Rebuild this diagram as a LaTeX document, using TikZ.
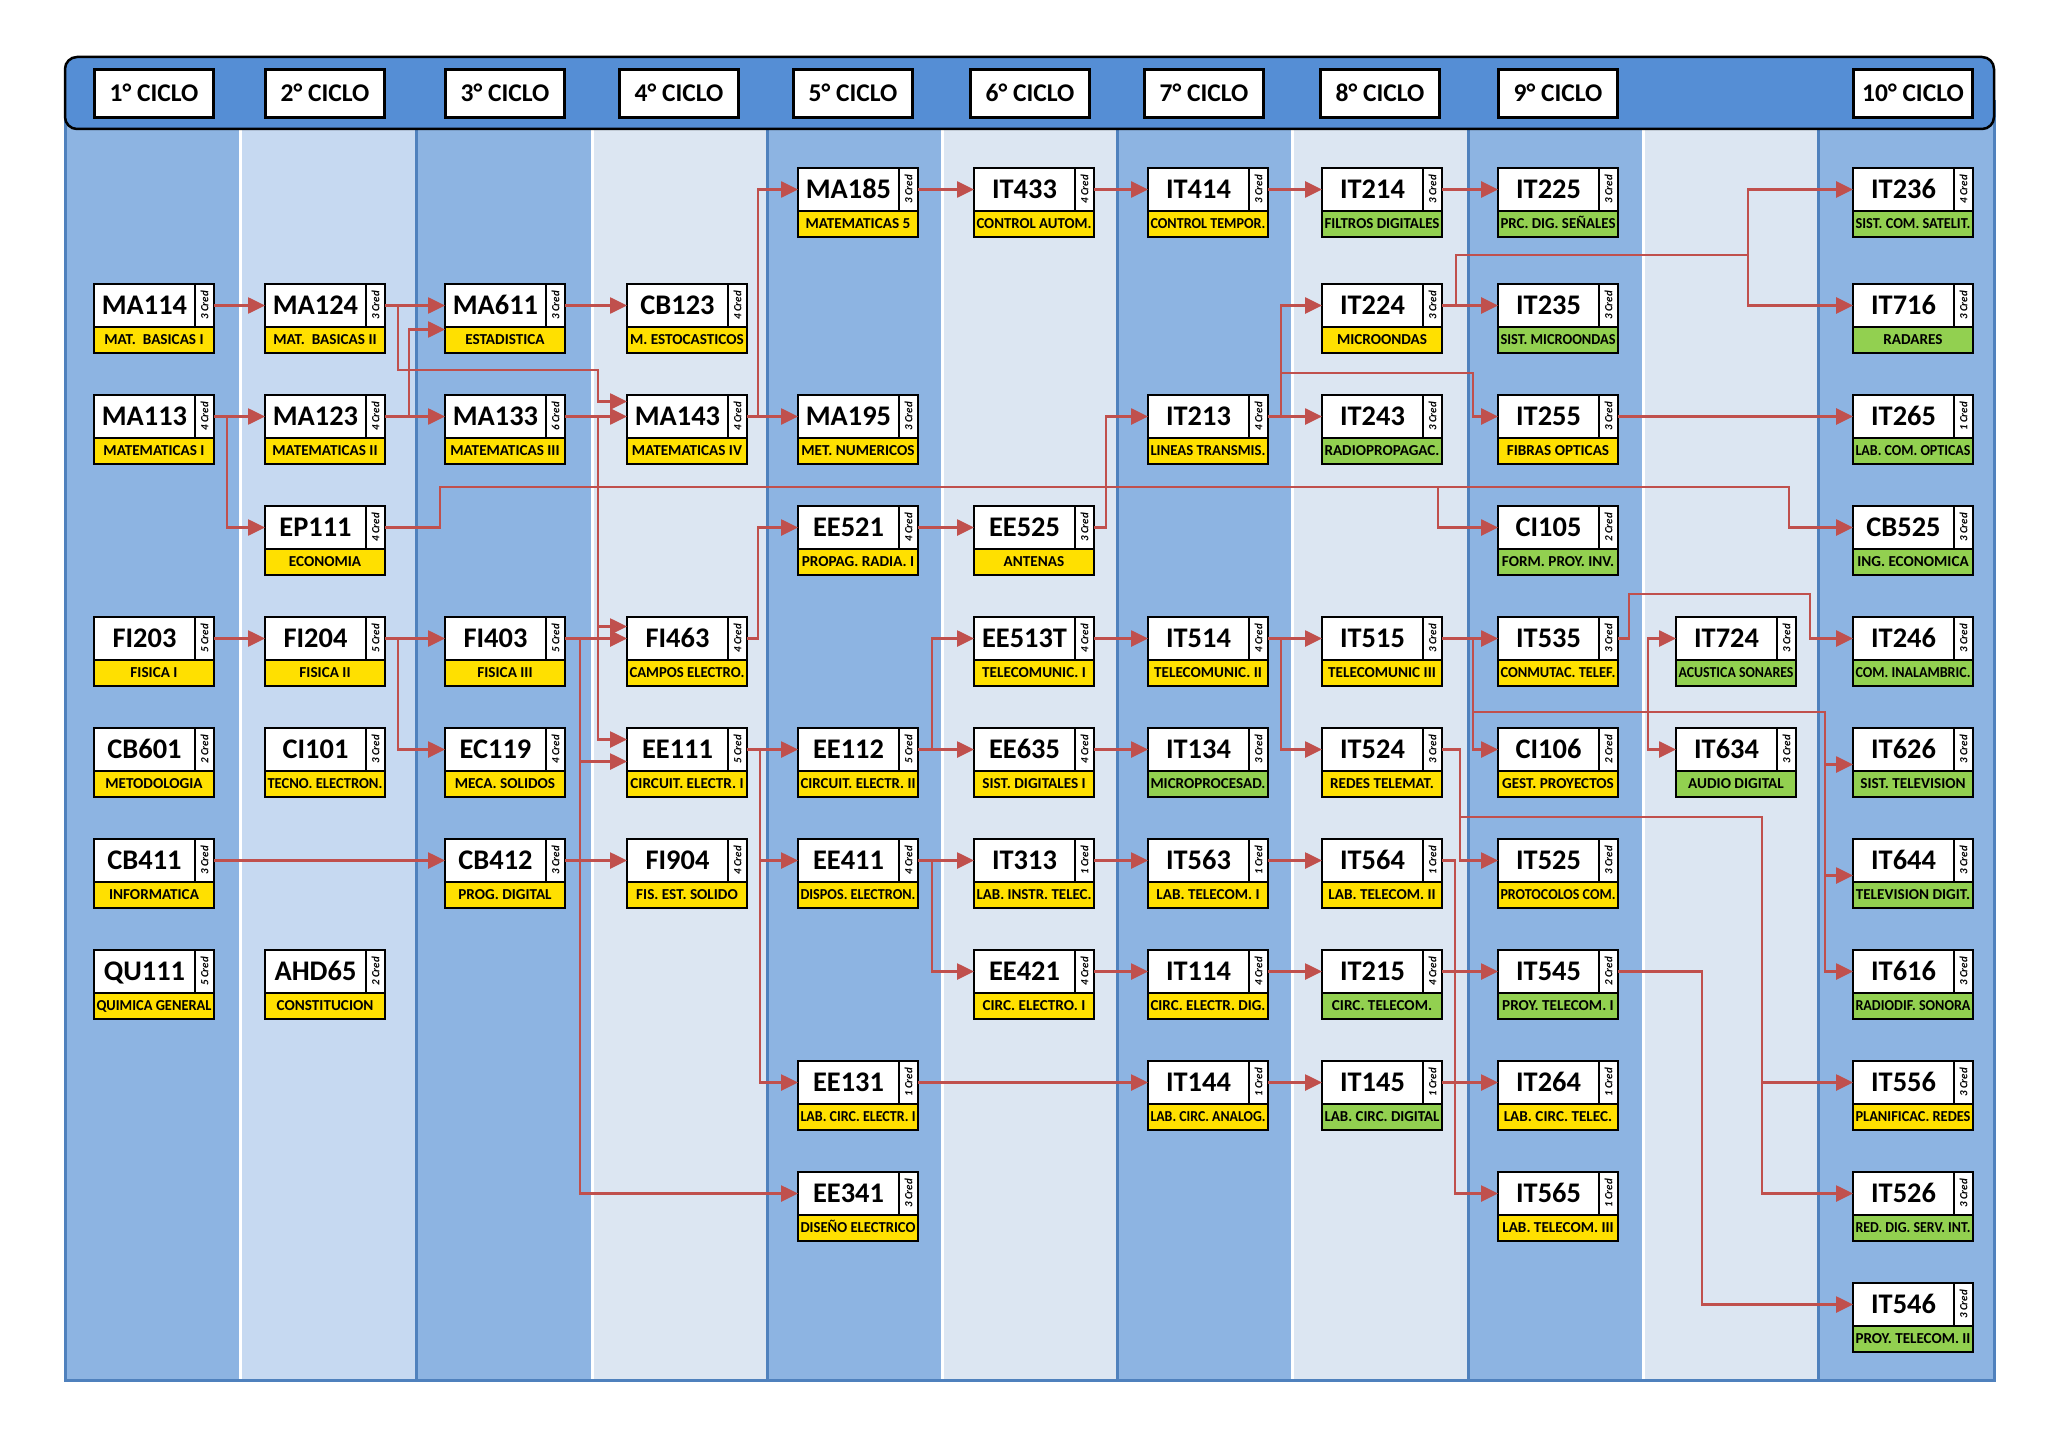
\documentclass[tikz,border=0pt]{standalone}
\usepackage{fontspec}
\setmainfont{Carlito}
\usepackage{graphicx}
\usetikzlibrary{arrows.meta}
\definecolor{darkcol}{HTML}{8DB4E2}
\definecolor{midcol}{HTML}{C6D9F1}
\definecolor{lightcol}{HTML}{DCE6F2}
\definecolor{framecol}{HTML}{4F81BD}
\definecolor{headcol}{HTML}{558ED5}
\definecolor{labyellow}{HTML}{FFE000}
\definecolor{labgreen}{HTML}{92D050}
\definecolor{linkred}{HTML}{C0504D}
\newsavebox\labsave
\newcommand\fitlab[1]{\sbox\labsave{#1}\ifdim\wd\labsave>115pt\pgfmathparse{115/\the\wd\labsave}\scalebox{\pgfmathresult}[1]{\usebox\labsave}\else\usebox\labsave\fi}
\tikzset{
  codebox/.style={draw=black, line width=2.4pt, fill=white, minimum width=120pt, minimum height=43pt,
    inner sep=0pt, outer sep=0pt, anchor=north west, text height=18.3pt, text depth=0pt,
    font=\fontsize{28.4}{28.4}\selectfont\bfseries},
  labbox/.style={draw=black, line width=2.4pt, minimum width=120pt, minimum height=26pt,
    inner sep=0pt, outer sep=0pt, anchor=north, text height=9.8pt, text depth=0pt,
    font=\fontsize{15.2}{15.2}\selectfont\bfseries},
  credtext/.style={rotate=90, inner sep=0pt, font=\fontsize{11}{11}\selectfont\bfseries\itshape},
  hdr/.style={draw=black, line width=2.4pt, fill=white, minimum width=119pt, minimum height=48pt,
    inner sep=0pt, text height=16.5pt, text depth=0pt, font=\fontsize{25.5}{25.5}\selectfont\bfseries},
  link/.style={draw=linkred, line width=2.6pt, -{Triangle[length=17pt,width=16pt]}},
}
\newcommand\cursonode[7]{%
  \node[codebox] (#1) at (#2,#3) {\makebox[120pt][l]{\makebox[101pt]{#4}}};
  \draw[line width=1.6pt] ([xshift=-19pt]#1.north east) -- ([xshift=-19pt]#1.south east);
  \node[credtext] (#1-c) at ([xshift=-9.5pt]#1.east) {#5 Cred};
  \node[labbox, fill=#7] (#1-l) at (#1.south) {\fitlab{#6}};
}
\begin{document}
\begin{tikzpicture}[x=1pt,y=-1pt]
\useasboundingbox (0,0) rectangle (2048,1450);
\fill[white] (0,0) rectangle (2048,1450);
% columns
\fill[darkcol]  (65,100) rectangle (240,1380);
\fill[midcol]   (240,100) rectangle (416,1380);
\fill[darkcol]  (416,100) rectangle (592,1380);
\fill[lightcol] (592,100) rectangle (767,1380);
\fill[darkcol]  (767,100) rectangle (942,1380);
\fill[lightcol] (942,100) rectangle (1117,1380);
\fill[darkcol]  (1117,100) rectangle (1292,1380);
\fill[lightcol] (1292,100) rectangle (1468,1380);
\fill[darkcol]  (1468,100) rectangle (1643,1380);
\fill[lightcol] (1643,100) rectangle (1818,1380);
\fill[darkcol]  (1818,100) rectangle (1994,1380);
\foreach \xx in {240,592,942,1292,1643} \draw[white, line width=3pt] (\xx,100) -- (\xx,1380);
\foreach \xx in {416,767,1117,1468,1818} \draw[framecol, line width=3pt] (\xx,100) -- (\xx,1380);
\draw[framecol, line width=3pt] (65,100) -- (65,1380) -- (1994,1380) -- (1994,100);
% header
\draw[fill=headcol, draw=black, line width=2.5pt, rounded corners=12pt] (65,57) rectangle (1994,129);
\node[hdr] (h1) at (154,93.5) {1° CICLO};
\node[hdr] (h2) at (325,93.5) {2° CICLO};
\node[hdr] (h3) at (505,93.5) {3° CICLO};
\node[hdr] (h4) at (679,93.5) {4° CICLO};
\node[hdr] (h5) at (853,93.5) {5° CICLO};
\node[hdr] (h6) at (1030,93.5) {6° CICLO};
\node[hdr] (h7) at (1204,93.5) {7° CICLO};
\node[hdr] (h8) at (1380,93.5) {8° CICLO};
\node[hdr] (h9) at (1558,93.5) {9° CICLO};
\node[hdr] (h10) at (1913,93.5) {10° CICLO};
% column 1
\cursonode{MA114}{94}{284}{MA114}{3}{MAT.\ \ BASICAS I}{labyellow}
\cursonode{MA113}{94}{395}{MA113}{4}{MATEMATICAS I}{labyellow}
\cursonode{FI203}{94}{617}{FI203}{5}{FISICA I}{labyellow}
\cursonode{CB601}{94}{728}{CB601}{2}{METODOLOGIA}{labyellow}
\cursonode{CB411}{94}{839}{CB411}{3}{INFORMATICA}{labyellow}
\cursonode{QU111}{94}{950}{QU111}{5}{QUIMICA GENERAL}{labyellow}
% column 2
\cursonode{MA124}{265}{284}{MA124}{3}{MAT.\ \ BASICAS II}{labyellow}
\cursonode{MA123}{265}{395}{MA123}{4}{MATEMATICAS II}{labyellow}
\cursonode{EP111}{265}{506}{EP111}{4}{ECONOMIA}{labyellow}
\cursonode{FI204}{265}{617}{FI204}{5}{FISICA II}{labyellow}
\cursonode{CI101}{265}{728}{CI101}{3}{TECNO. ELECTRON.}{labyellow}
\cursonode{AHD65}{265}{950}{AHD65}{2}{CONSTITUCION}{labyellow}
% column 3
\cursonode{MA611}{445}{284}{MA611}{3}{ESTADISTICA}{labyellow}
\cursonode{MA133}{445}{395}{MA133}{6}{MATEMATICAS III}{labyellow}
\cursonode{FI403}{445}{617}{FI403}{5}{FISICA III}{labyellow}
\cursonode{EC119}{445}{728}{EC119}{4}{MECA. SOLIDOS}{labyellow}
\cursonode{CB412}{445}{839}{CB412}{3}{PROG. DIGITAL}{labyellow}
% column 4
\cursonode{CB123}{627}{284}{CB123}{4}{M. ESTOCASTICOS}{labyellow}
\cursonode{MA143}{627}{395}{MA143}{4}{MATEMATICAS IV}{labyellow}
\cursonode{FI463}{627}{617}{FI463}{4}{CAMPOS ELECTRO.}{labyellow}
\cursonode{EE111}{627}{728}{EE111}{5}{CIRCUIT. ELECTR. I}{labyellow}
\cursonode{FI904}{627}{839}{FI904}{4}{FIS. EST. SOLIDO}{labyellow}
% column 5
\cursonode{MA185}{798}{168}{MA185}{3}{MATEMATICAS 5}{labyellow}
\cursonode{MA195}{798}{395}{MA195}{3}{MET. NUMERICOS}{labyellow}
\cursonode{EE521}{798}{506}{EE521}{4}{PROPAG. RADIA. I}{labyellow}
\cursonode{EE112}{798}{728}{EE112}{5}{CIRCUIT. ELECTR. II}{labyellow}
\cursonode{EE411}{798}{839}{EE411}{4}{DISPOS. ELECTRON.}{labyellow}
\cursonode{EE131}{798}{1061}{EE131}{1}{LAB. CIRC. ELECTR. I}{labyellow}
\cursonode{EE341}{798}{1172}{EE341}{3}{DISEÑO ELECTRICO}{labyellow}
% column 6
\cursonode{IT433}{974}{168}{IT433}{4}{CONTROL AUTOM.}{labyellow}
\cursonode{EE525}{974}{506}{EE525}{3}{ANTENAS}{labyellow}
\cursonode{EE513T}{974}{617}{EE513T}{4}{TELECOMUNIC. I}{labyellow}
\cursonode{EE635}{974}{728}{EE635}{4}{SIST. DIGITALES I}{labyellow}
\cursonode{IT313}{974}{839}{IT313}{1}{LAB. INSTR. TELEC.}{labyellow}
\cursonode{EE421}{974}{950}{EE421}{4}{CIRC. ELECTRO. I}{labyellow}
% column 7
\cursonode{IT414}{1148}{168}{IT414}{3}{CONTROL TEMPOR.}{labyellow}
\cursonode{IT213}{1148}{395}{IT213}{4}{LINEAS TRANSMIS.}{labyellow}
\cursonode{IT514}{1148}{617}{IT514}{4}{TELECOMUNIC. II}{labyellow}
\cursonode{IT134}{1148}{728}{IT134}{3}{MICROPROCESAD.}{labgreen}
\cursonode{IT563}{1148}{839}{IT563}{1}{LAB. TELECOM. I}{labyellow}
\cursonode{IT114}{1148}{950}{IT114}{4}{CIRC. ELECTR. DIG.}{labyellow}
\cursonode{IT144}{1148}{1061}{IT144}{1}{LAB. CIRC. ANALOG.}{labyellow}
% column 8
\cursonode{IT214}{1322}{168}{IT214}{3}{FILTROS DIGITALES}{labgreen}
\cursonode{IT224}{1322}{284}{IT224}{3}{MICROONDAS}{labyellow}
\cursonode{IT243}{1322}{395}{IT243}{3}{RADIOPROPAGAC.}{labgreen}
\cursonode{IT515}{1322}{617}{IT515}{3}{TELECOMUNIC III}{labyellow}
\cursonode{IT524}{1322}{728}{IT524}{3}{REDES TELEMAT.}{labyellow}
\cursonode{IT564}{1322}{839}{IT564}{1}{LAB. TELECOM. II}{labyellow}
\cursonode{IT215}{1322}{950}{IT215}{4}{CIRC. TELECOM.}{labgreen}
\cursonode{IT145}{1322}{1061}{IT145}{1}{LAB. CIRC. DIGITAL}{labgreen}
% column 9
\cursonode{IT225}{1498}{168}{IT225}{3}{PRC. DIG. SEÑALES}{labgreen}
\cursonode{IT235}{1498}{284}{IT235}{3}{SIST. MICROONDAS}{labgreen}
\cursonode{IT255}{1498}{395}{IT255}{3}{FIBRAS OPTICAS}{labyellow}
\cursonode{CI105}{1498}{506}{CI105}{2}{FORM. PROY. INV.}{labgreen}
\cursonode{IT535}{1498}{617}{IT535}{3}{CONMUTAC. TELEF.}{labyellow}
\cursonode{CI106}{1498}{728}{CI106}{2}{GEST. PROYECTOS}{labyellow}
\cursonode{IT525}{1498}{839}{IT525}{3}{PROTOCOLOS COM.}{labyellow}
\cursonode{IT545}{1498}{950}{IT545}{2}{PROY. TELECOM. I}{labgreen}
\cursonode{IT264}{1498}{1061}{IT264}{1}{LAB. CIRC. TELEC.}{labyellow}
\cursonode{IT565}{1498}{1172}{IT565}{1}{LAB. TELECOM. III}{labyellow}
% column 10
\cursonode{IT724}{1676}{617}{IT724}{3}{ACUSTICA SONARES}{labgreen}
\cursonode{IT634}{1676}{728}{IT634}{3}{AUDIO DIGITAL}{labgreen}
% column 11
\cursonode{IT236}{1853}{168}{IT236}{4}{SIST. COM. SATELIT.}{labgreen}
\cursonode{IT716}{1853}{284}{IT716}{3}{RADARES}{labgreen}
\cursonode{IT265}{1853}{395}{IT265}{1}{LAB. COM. OPTICAS}{labgreen}
\cursonode{CB525}{1853}{506}{CB525}{3}{ING. ECONOMICA}{labgreen}
\cursonode{IT246}{1853}{617}{IT246}{3}{COM. INALAMBRIC.}{labgreen}
\cursonode{IT626}{1853}{728}{IT626}{3}{SIST. TELEVISION}{labgreen}
\cursonode{IT644}{1853}{839}{IT644}{3}{TELEVISION DIGIT.}{labgreen}
\cursonode{IT616}{1853}{950}{IT616}{3}{RADIODIF. SONORA}{labgreen}
\cursonode{IT556}{1853}{1061}{IT556}{3}{PLANIFICAC. REDES}{labyellow}
\cursonode{IT526}{1853}{1172}{IT526}{3}{RED. DIG. SERV. INT.}{labgreen}
\cursonode{IT546}{1853}{1283}{IT546}{3}{PROY. TELECOM. II}{labgreen}
% connectors
\draw[link] (MA114.east) -- (MA124.west);
\draw[link] (MA113.east) -- (MA123.west);
\draw[link] (MA113.east) -- ++(13,0) |- (EP111.west);
\draw[link] (MA124.east) -- (MA611.west);
\draw[link] (MA124.east) -- ++(13,0) |- (598,370) |- ([yshift=15pt]MA143.west);
\draw[link] (MA123.east) -- (MA133.west);
\draw[link] (MA123.east) -- ++(24,0) |- ([yshift=-24pt]MA611.west);
\draw[link] (MA611.east) -- (CB123.west);
\draw[link] (MA133.east) -- (MA143.west);
\draw[link] (MA133.east) -- ++(33,0) |- ([yshift=12pt]FI463.west);
\draw[link] (MA133.east) -- ++(33,0) |- ([yshift=10pt]EE111.west);
\draw[link] (EP111.east) -- ++(55,0) |- (1438,487) |- (CI105.west);
\draw[link] (EP111.east) -- ++(55,0) |- (1789,487) |- (CB525.west);
\draw[link] (FI203.east) -- (FI204.west);
\draw[link] (FI204.east) -- (FI403.west);
\draw[link] (FI204.east) -- ++(13,0) |- (EC119.west);
\draw[link] (FI403.east) -- (FI463.west);
\draw[link] (FI403.east) -- ++(15,0) |- ([yshift=-12pt]EE111.west);
\draw[link] (FI403.east) -- ++(15,0) |- (EE341.west);
\draw[link] (CB411.east) -- (CB412.west);
\draw[link] (CB412.east) -- (FI904.west);
\draw[link] (MA143.east) -- (MA195.west);
\draw[link] (MA143.east) -- ++(11,0) |- (MA185.west);
\draw[link] (FI463.east) -- ++(11,0) |- (EE521.west);
\draw[link] (EE111.east) -- (EE112.west);
\draw[link] (EE111.east) -- ++(13,0) |- (EE411.west);
\draw[link] (EE111.east) -- ++(13,0) |- (EE131.west);
\draw[link] (MA185.east) -- (IT433.west);
\draw[link] (IT433.east) -- (IT414.west);
\draw[link] (IT414.east) -- (IT214.west);
\draw[link] (IT214.east) -- (IT225.west);
\draw[link] (EE521.east) -- (EE525.west);
\draw[link] (EE525.east) -- ++(12,0) |- (IT213.west);
\draw[link] (EE112.east) -- (EE635.west);
\draw[link] (EE112.east) -- ++(14,0) |- (EE513T.west);
\draw[link] (EE411.east) -- (IT313.west);
\draw[link] (EE411.east) -- ++(14,0) |- (EE421.west);
\draw[link] (EE131.east) -- (IT144.west);
\draw[link] (EE513T.east) -- (IT514.west);
\draw[link] (EE635.east) -- (IT134.west);
\draw[link] (IT313.east) -- (IT563.west);
\draw[link] (EE421.east) -- (IT114.west);
\draw[link] (IT144.east) -- (IT145.west);
\draw[link] (IT213.east) -- (IT243.west);
\draw[link] (IT213.east) -- ++(13,0) |- (IT224.west);
\draw[link] (IT213.east) -- ++(13,0) |- (1473,373) |- (IT255.west);
\draw[link] (IT514.east) -- (IT515.west);
\draw[link] (IT514.east) -- ++(13,0) |- (IT524.west);
\draw[link] (IT563.east) -- (IT564.west);
\draw[link] (IT114.east) -- (IT215.west);
\draw[link] (IT145.east) -- (IT264.west);
\draw[link] (IT224.east) -- (IT235.west);
\draw[link] (IT224.east) -- ++(14,0) |- (1748,255) |- (IT236.west);
\draw[link] (IT224.east) -- ++(14,0) |- (1748,255) |- (IT716.west);
\draw[link] (IT255.east) -- (IT265.west);
\draw[link] (IT515.east) -- (IT535.west);
\draw[link] (IT515.east) -- ++(31,0) |- (CI106.west);
\draw[link] (IT515.east) -- ++(31,0) |- (1648,712) |- (IT724.west);
\draw[link] (IT515.east) -- ++(31,0) |- (1648,712) |- (IT634.west);
\draw[link] (IT515.east) -- ++(31,0) |- (1825,712) |- ([yshift=-15pt]IT626.west);
\draw[link] (IT515.east) -- ++(31,0) |- (1825,712) |- ([yshift=-15pt]IT644.west);
\draw[link] (IT515.east) -- ++(31,0) |- (1825,712) |- (IT616.west);
\draw[link] (IT524.east) -- ++(18,0) |- (IT525.west);
\draw[link] (IT524.east) -- ++(18,0) |- (1762,817) |- (IT556.west);
\draw[link] (IT524.east) -- ++(18,0) |- (1762,817) |- (IT526.west);
\draw[link] (IT564.east) -- ++(13,0) |- (IT565.west);
\draw[link] (IT215.east) -- (IT545.west);
\draw[link] (IT535.east) -- ++(11,0) |- (1810,594) |- (IT246.west);
\draw[link] (IT545.east) -- ++(84,0) |- (IT546.west);
\end{tikzpicture}
\end{document}
